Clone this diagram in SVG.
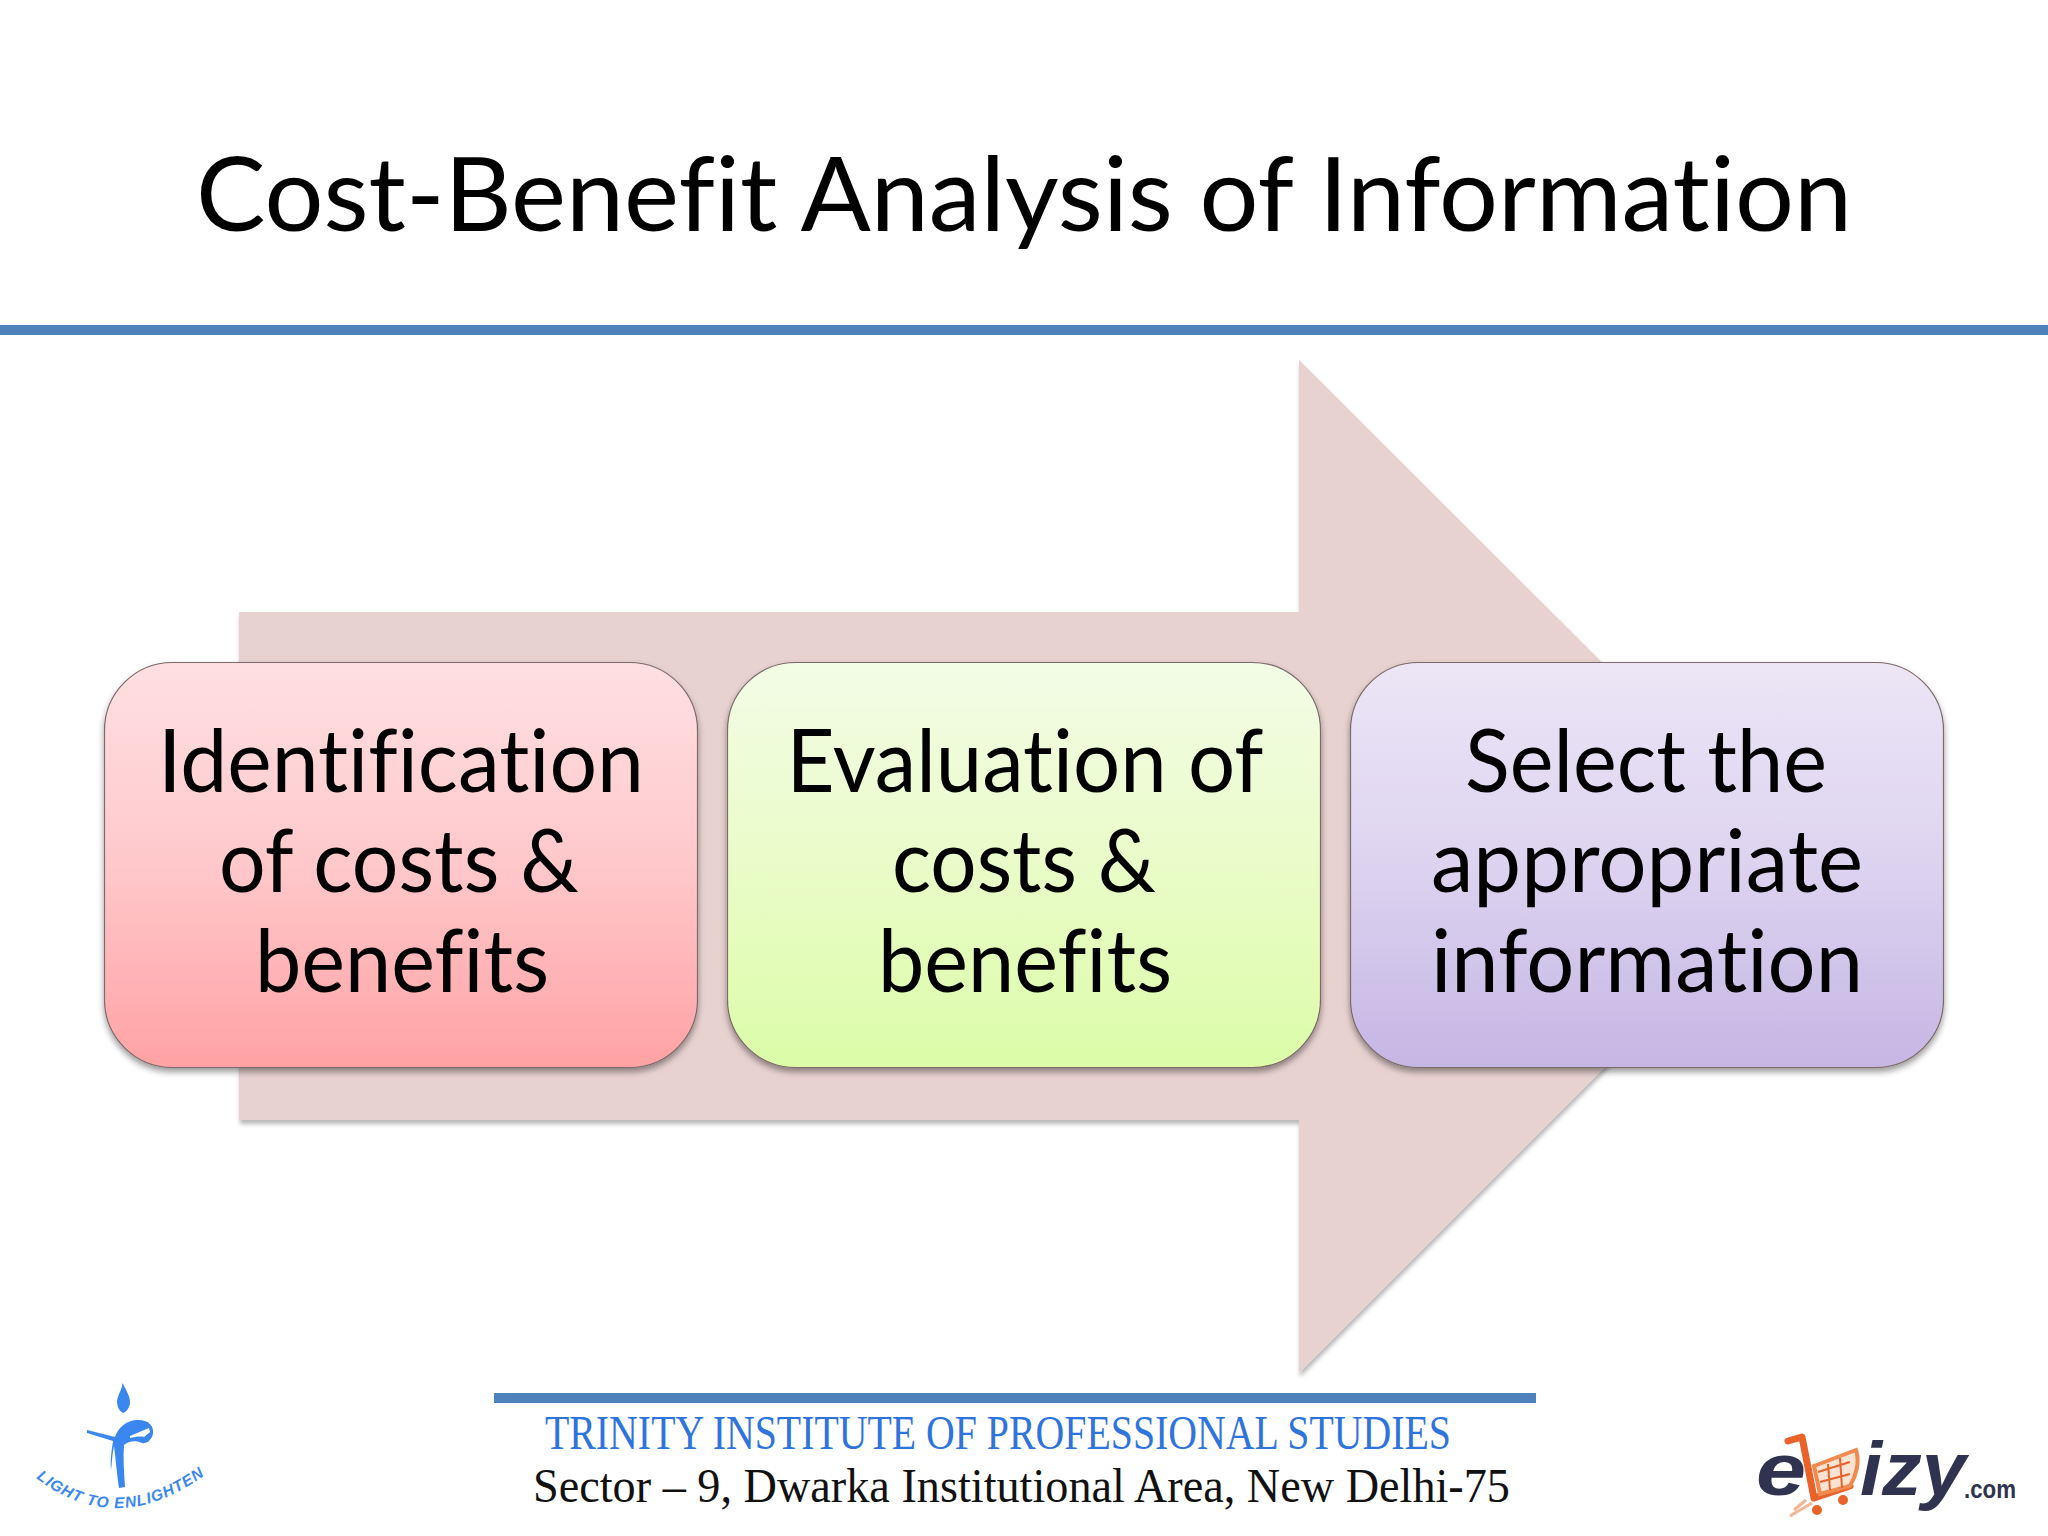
<svg xmlns="http://www.w3.org/2000/svg" width="2048" height="1536" viewBox="0 0 2048 1536">
<style>
.t{font-family:"Lato","Carlito","Open Sans",sans-serif;fill:#000;text-anchor:middle;font-variant-ligatures:none}
.n{font-size:88px}
.box{stroke:#7d6a6a;stroke-width:1.2;filter:url(#sh)}
</style>
<defs>
<linearGradient id="gr" x1="0" y1="0" x2="0" y2="1"><stop offset="0" stop-color="#ffe0e2"/><stop offset="0.5" stop-color="#ffc8cb"/><stop offset="1" stop-color="#ffa2a4"/></linearGradient>
<linearGradient id="gg" x1="0" y1="0" x2="0" y2="1"><stop offset="0" stop-color="#f3fce6"/><stop offset="0.5" stop-color="#e9fcc8"/><stop offset="1" stop-color="#dcfca8"/></linearGradient>
<linearGradient id="gp" x1="0" y1="0" x2="0" y2="1"><stop offset="0" stop-color="#ece6f6"/><stop offset="0.5" stop-color="#ddd3f0"/><stop offset="1" stop-color="#c5b6e4"/></linearGradient>
<filter id="sh" x="-5%" y="-5%" width="110%" height="112%"><feDropShadow dx="0" dy="4" stdDeviation="3" flood-color="#000" flood-opacity="0.4"/></filter>
<filter id="sa" x="-5%" y="-5%" width="110%" height="110%"><feDropShadow dx="1" dy="4" stdDeviation="2" flood-color="#000" flood-opacity="0.28"/></filter>
<path id="arc" d="M36 1478 Q 118 1542 212 1470"/>
</defs>
<rect width="2048" height="1536" fill="#fff"/>
<g id="title">
<text class="t" x="1024" y="231" font-size="102" textLength="1656" lengthAdjust="spacingAndGlyphs">Cost-Benefit Analysis of Information</text>
<rect x="0" y="325" width="2048" height="10" fill="#4f81bd"/>
</g>
<g id="connectors">
<path d="M239 612H1299V360L1806 866L1299 1373V1120H239Z" fill="#e7d2d0" filter="url(#sa)"/>
</g>
<g id="node-1">
<rect class="box" x="104.500" y="662.500" width="593" height="405" rx="68" fill="url(#gr)"/>
<text class="t n" x="401" y="792" textLength="486" lengthAdjust="spacingAndGlyphs">Identification</text>
<text class="t n" x="399" y="892" textLength="360" lengthAdjust="spacingAndGlyphs">of costs &amp;</text>
<text class="t n" x="402" y="992" textLength="294" lengthAdjust="spacingAndGlyphs">benefits</text>
</g>
<g id="node-2">
<rect class="box" x="727.500" y="662.500" width="593" height="405" rx="68" fill="url(#gg)"/>
<text class="t n" x="1025" y="792" textLength="477" lengthAdjust="spacingAndGlyphs">Evaluation of</text>
<text class="t n" x="1024" y="892" textLength="264" lengthAdjust="spacingAndGlyphs">costs &amp;</text>
<text class="t n" x="1025" y="992" textLength="294" lengthAdjust="spacingAndGlyphs">benefits</text>
</g>
<g id="node-3">
<rect class="box" x="1350.500" y="662.500" width="593" height="405" rx="68" fill="url(#gp)"/>
<text class="t n" x="1646" y="792" textLength="362" lengthAdjust="spacingAndGlyphs">Select the</text>
<text class="t n" x="1647" y="892" textLength="432" lengthAdjust="spacingAndGlyphs">appropriate</text>
<text class="t n" x="1647" y="992" textLength="432" lengthAdjust="spacingAndGlyphs">information</text>
</g>
<g id="footer">
<rect x="494" y="1393" width="1042" height="10" fill="#4f81bd"/>
<text x="545" y="1449" font-family="Liberation Serif,serif" font-size="48" fill="#2f74dc" textLength="906" lengthAdjust="spacingAndGlyphs">TRINITY INSTITUTE OF PROFESSIONAL STUDIES</text>
<text x="533" y="1502" font-family="Liberation Serif,serif" font-size="49" fill="#111" textLength="977" lengthAdjust="spacingAndGlyphs">Sector – 9, Dwarka Institutional Area, New Delhi-75</text>
</g>
<g id="logo-left" fill="#3b87f0">
<path d="M122.500 1383C126 1390 130 1396 130 1402C130 1408 126 1412 123 1413C119 1411 117 1406 117 1401C118 1394 122 1390 122.500 1383Z"/>
<path d="M87 1430L115 1437C118 1428 126 1420 138 1420C150 1420 154 1427 153 1434C151 1441 146 1444 142 1443C136 1440 128 1441 124 1445C123 1458 124 1472 125 1487L119 1488C117 1475 116 1462 114 1446C112 1455 112 1463 111 1470C110 1460 112 1448 113 1441L87 1433Z"/>
<path d="M130 1436L149 1428L150 1432L144 1437C140 1436 135 1437 130 1438Z" fill="#fff"/>
<text font-family="Liberation Sans,sans-serif" font-size="15.500" font-weight="bold" font-style="italic" letter-spacing="1"><textPath href="#arc">LIGHT TO ENLIGHTEN</textPath></text>
</g>
<g id="logo-right">
<text x="1756" y="1495" font-family="Liberation Sans,sans-serif" font-size="74" font-weight="bold" font-style="italic" fill="#2f3350" textLength="50" lengthAdjust="spacingAndGlyphs">e</text>
<path d="M1788 1441L1802 1437L1814 1498L1850 1486" fill="none" stroke="#e8622a" stroke-width="7" stroke-linejoin="round" stroke-linecap="round"/>
<path d="M1814 1466L1856 1450C1860 1462 1856 1476 1850 1486L1820 1494Z" fill="#fbe3d4" stroke="#f08a4e" stroke-width="4"/>
<path d="M1818 1472L1850 1462M1820 1482L1850 1474M1828 1464L1830 1490M1840 1458L1842 1488" stroke="#e8622a" stroke-width="2" fill="none"/>
<circle cx="1817" cy="1510" r="5" fill="#e8622a"/>
<circle cx="1843" cy="1500" r="5" fill="#e8622a"/>
<path d="M1790 1516L1812 1503M1794 1510L1806 1500" stroke="#f2b596" stroke-width="3" fill="none"/>
<text x="1860" y="1495" font-family="Liberation Sans,sans-serif" font-size="76" font-weight="bold" font-style="italic" fill="#2f3350" textLength="106" lengthAdjust="spacingAndGlyphs">izy</text>
<text x="1964" y="1498" font-family="Liberation Sans,sans-serif" font-size="26" font-weight="bold" fill="#2f3350" textLength="52" lengthAdjust="spacingAndGlyphs">.com</text>
</g>
</svg>
